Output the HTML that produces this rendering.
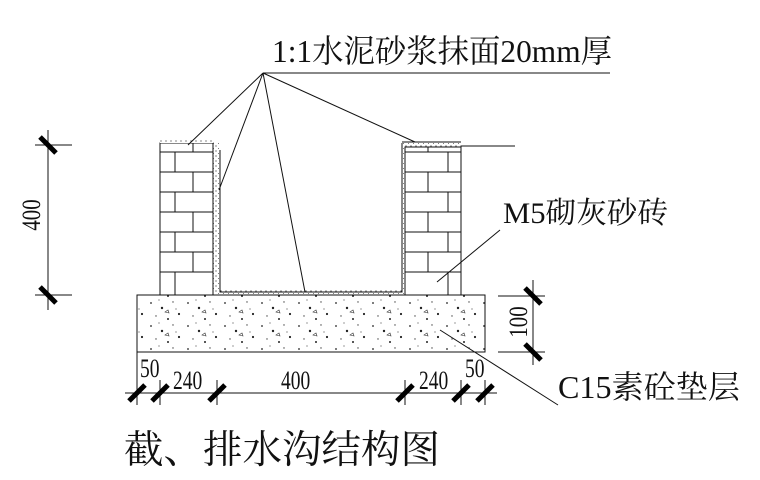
<!DOCTYPE html>
<html><head><meta charset="utf-8"><style>
html,body{margin:0;padding:0;background:#fff;}
svg{display:block}
text{font-family:"Liberation Serif","Noto Serif CJK SC",serif;fill:#111}
</style></head><body>
<svg width="760" height="480" viewBox="0 0 760 480" xmlns="http://www.w3.org/2000/svg">
<defs>
<pattern id="conc" width="37" height="23" patternUnits="userSpaceOnUse">
<rect width="37" height="23" fill="#fff"/>
<circle cx="3" cy="4" r="0.9" fill="#222"/><circle cx="14" cy="9" r="1.2" fill="#222"/>
<circle cx="25" cy="3" r="0.7" fill="#444"/><circle cx="31" cy="15" r="1.1" fill="#222"/>
<circle cx="8" cy="17" r="0.7" fill="#444"/><circle cx="20" cy="20" r="1" fill="#222"/>
<circle cx="28" cy="10" r="0.6" fill="#555"/><circle cx="11" cy="1" r="0.6" fill="#555"/>
<path d="M17 13 l3 -2 l1 3z" fill="none" stroke="#333" stroke-width="0.6"/>
</pattern>
<pattern id="mort" width="5" height="5" patternUnits="userSpaceOnUse">
<rect width="5" height="5" fill="#fff"/><circle cx="1" cy="1" r="0.6" fill="#333"/><circle cx="3.5" cy="3.5" r="0.5" fill="#555"/>
</pattern>
</defs>
<g stroke="#111" stroke-width="1" fill="none">
<rect x="137" y="295" width="348" height="57" fill="url(#conc)"/>
<rect x="160" y="143" width="53" height="152" fill="#fff"/>
<rect x="213" y="143" width="7" height="149" fill="url(#mort)" stroke="none"/>
<rect x="217" y="289" width="188" height="5" fill="url(#mort)" stroke="none"/>
<rect x="402" y="143" width="3" height="149" fill="url(#mort)" stroke="none"/>
<rect x="402" y="142" width="59" height="5" fill="url(#mort)" stroke="none"/>
<rect x="160" y="139" width="53" height="4" fill="url(#mort)" stroke="none"/>
<path d="M213 143V292M220 150V292H402V143M402 142H461M461 146H515"/>
<path d="M160 152H213M160 172H213M160 192H213M160 212H213M160 232H213M160 252H213M160 272H213"/>
<path d="M193 143V152M175 152V172M193 172V192M175 192V212M193 212V232M175 232V252M193 252V272M175 272V295"/>
<rect x="405" y="147" width="56" height="148" fill="#fff"/>
<path d="M405 152H461M405 172H461M405 192H461M405 212H461M405 232H461M405 252H461M405 272H461"/>
<path d="M428 147V152M448 152V172M428 172V192M448 192V212M428 212V232M448 232V252M428 252V272M448 272V295"/>
<path d="M263 73H610M263 73L188 145M263 73L219 190M263 73L305 292M263 73L415 142"/>
<path d="M500 230L437 282M440 330L558 405"/>
<path d="M48 130V310M35 145H72M35 295H72"/>
<path d="M533 280V365M498 296H545M498 352H545"/>
<path d="M125 393H497M137 352V405M160 380V405M217 380V405M405 380V405M461 380V405M485 380V405"/>
</g>
<g stroke="#000" stroke-width="5" stroke-linecap="butt">
<path d="M40 137L56 153M40 287L56 303"/>
<path d="M525 288L541 304M525 344L541 360"/>
<path d="M129 401L145 385M152 401L168 385M209 401L225 385M397 401L413 385M453 401L469 385M477 401L493 385"/>
</g>
<text x="272" y="62" font-size="32" textLength="340" lengthAdjust="spacingAndGlyphs">1:1水泥砂浆抹面20mm厚</text>
<text x="503" y="223" font-size="30" textLength="165" lengthAdjust="spacingAndGlyphs">M5砌灰砂砖</text>
<text x="558" y="398" font-size="32" textLength="182" lengthAdjust="spacingAndGlyphs">C15素砼垫层</text>
<text x="124" y="463" font-size="39" textLength="316" lengthAdjust="spacingAndGlyphs" font-family="Liberation Sans,'Noto Sans CJK SC',sans-serif">截、排水沟结构图</text>
<g font-size="26">
<text transform="translate(40 215) rotate(-90) scale(0.8 1)" text-anchor="middle">400</text>
<text transform="translate(527 322) rotate(-90) scale(0.8 1)" text-anchor="middle">100</text>
<text transform="translate(140 377) scale(0.75 1)">50</text>
<text transform="translate(173 389) scale(0.75 1)">240</text>
<text transform="translate(281 389) scale(0.75 1)">400</text>
<text transform="translate(419 389) scale(0.75 1)">240</text>
<text transform="translate(465 377) scale(0.75 1)">50</text>
</g>
</svg>
</body></html>
